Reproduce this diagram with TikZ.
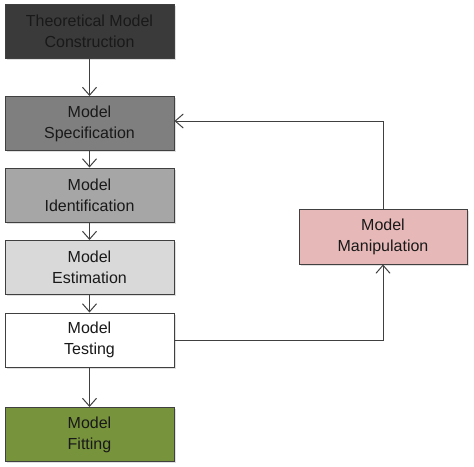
\documentclass[tikz,border=0pt]{standalone}
\usepackage{fontspec}
\setmainfont{Liberation Sans}
\usetikzlibrary{arrows.meta,shadows}
\definecolor{c1}{HTML}{3A3A3A}
\definecolor{c2}{HTML}{7F7F7F}
\definecolor{c3}{HTML}{A6A6A6}
\definecolor{c4}{HTML}{D9D9D9}
\definecolor{c6}{HTML}{77933C}
\definecolor{cm}{HTML}{E6B9B8}
\definecolor{ln}{HTML}{404040}
\tikzset{
  box/.style={draw=ln, line width=1pt, minimum width=169pt, minimum height=54pt,
    inner sep=0pt, align=center, font=\fontsize{16}{21}\selectfont, text=black!90,
    drop shadow={opacity=0.25, shadow xshift=1.5pt, shadow yshift=-1.5pt}},
  conn/.style={draw=ln, line width=1pt, -{Straight Barb[length=8pt,width=14pt,line width=1pt]}},
}
\begin{document}
\begin{tikzpicture}[x=1pt,y=1pt]
\useasboundingbox (0,0) rectangle (474,-466);
\node[box, fill=c1] (tmc) at (89.5,-31) {Theoretical Model\\Construction};
\node[box, fill=c2] (spec) at (89.5,-123.5) {Model\\Specification};
\node[box, fill=c3] (ident) at (89.5,-195) {Model\\Identification};
\node[box, fill=c4] (est) at (89.5,-267.5) {Model\\Estimation};
\node[box, fill=white] (test) at (89.5,-340) {Model\\Testing};
\node[box, fill=c6] (fit) at (89.5,-434.5) {Model\\Fitting};
\node[box, fill=cm, minimum width=168pt, minimum height=55pt] (man) at (383,-236.5) {Model\\Manipulation};
\draw[conn] (tmc) -- (spec);
\draw[conn] (spec) -- (ident);
\draw[conn] (ident) -- (est);
\draw[conn] (est) -- (test);
\draw[conn] (test) -- (fit);
\draw[conn] (test.east) -| (man.south);
\draw[conn] (man.north) |- (spec.east |- 0,-121);
\end{tikzpicture}
\end{document}
